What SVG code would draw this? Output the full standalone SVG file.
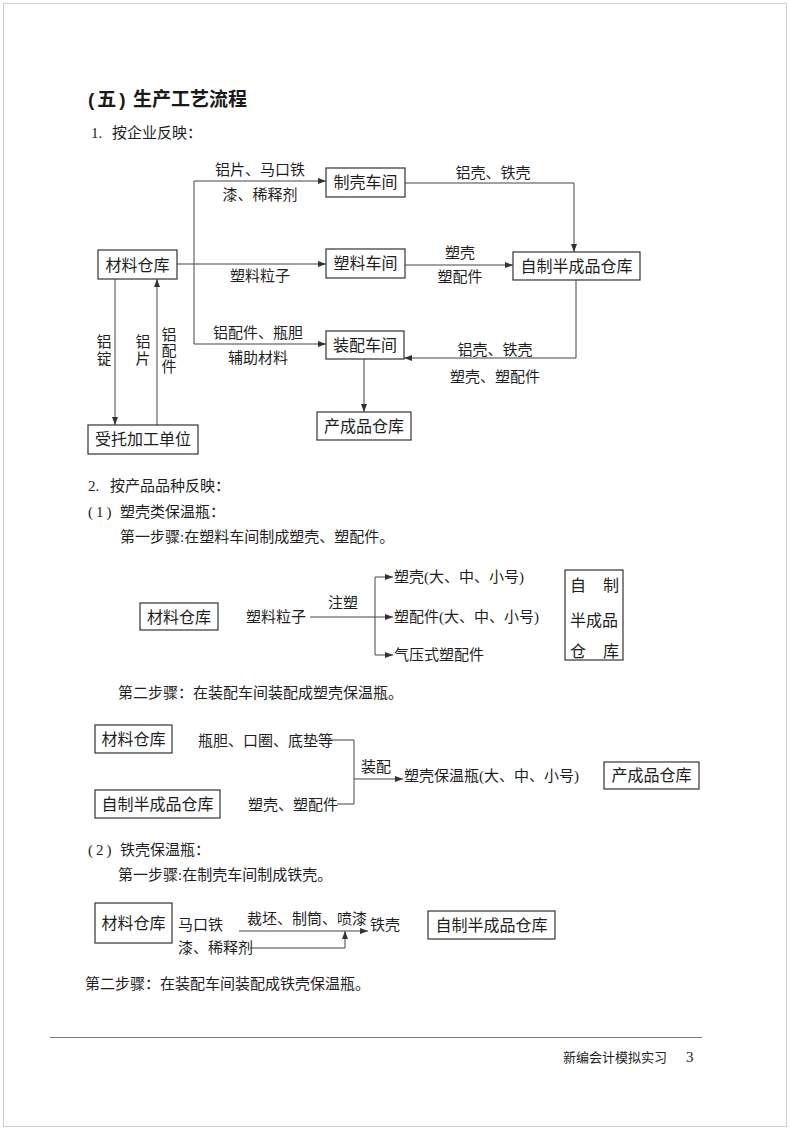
<svg xmlns="http://www.w3.org/2000/svg" width="790" height="1130" viewBox="0 0 790 1130">
<style>
.t{font-family:"Liberation Serif","Noto Sans CJK SC",serif;font-size:15px;fill:#1e1e1e;dominant-baseline:central}
.c{text-anchor:middle}
.bt{font-size:16px}
.h{font-family:"Liberation Sans","Noto Sans CJK SC",sans-serif;font-size:19px;font-weight:bold;fill:#1a1a1a;dominant-baseline:central}
.box{fill:none;stroke:#333;stroke-width:1.2}
.ln{fill:none;stroke:#444;stroke-width:1}
.ar{marker-end:url(#ah)}
</style>
<defs>
<marker id="ah" markerUnits="userSpaceOnUse" markerWidth="8" markerHeight="6" refX="8" refY="3" orient="auto">
<path d="M0,0 L8,3 L0,6 z" fill="#333"/>
</marker>
</defs>
<rect x="0" y="0" width="790" height="1130" fill="#fff"/>
<rect x="3.5" y="3.5" width="783" height="1123" fill="none" stroke="#d0d0d0" stroke-width="1"/>

<!-- headings and body text -->
<g id="texts">
<text class="h" x="88" y="99" letter-spacing="3">(五)<tspan x="133" letter-spacing="0">生产工艺流程</tspan></text>
<text class="t" x="91" y="133">1.<tspan x="112">按企业反映：</tspan></text>
<text class="t" x="88" y="486">2.<tspan x="110">按产品品种反映：</tspan></text>
<text class="t" x="88" y="512" letter-spacing="3">(1)<tspan x="120" letter-spacing="0">塑壳类保温瓶：</tspan></text>
<text class="t" x="120" y="537">第一步骤:在塑料车间制成塑壳、塑配件。</text>
<text class="t" x="118" y="693">第二步骤：在装配车间装配成塑壳保温瓶。</text>
<text class="t" x="88" y="850" letter-spacing="3">(2)<tspan x="120" letter-spacing="0">铁壳保温瓶：</tspan></text>
<text class="t" x="118" y="875">第一步骤:在制壳车间制成铁壳。</text>
<text class="t" x="85" y="984">第二步骤：在装配车间装配成铁壳保温瓶。</text>
</g>

<!-- diagram 1 nodes -->
<g id="n-cailiao1"><rect class="box" x="98" y="250" width="79" height="29"/><text class="t bt c" x="137.5" y="265">材料仓库</text></g>
<g id="n-zhike"><rect class="box" x="326" y="168" width="79" height="29"/><text class="t bt c" x="365.5" y="182.5">制壳车间</text></g>
<g id="n-suliao"><rect class="box" x="326" y="249" width="79" height="29"/><text class="t bt c" x="365.5" y="263.5">塑料车间</text></g>
<g id="n-zhuangpei"><rect class="box" x="326" y="331" width="78" height="28"/><text class="t bt c" x="365" y="345">装配车间</text></g>
<g id="n-chanchengpin1"><rect class="box" x="317" y="412" width="94" height="28"/><text class="t bt c" x="364" y="426">产成品仓库</text></g>
<g id="n-shoutuo"><rect class="box" x="88" y="425" width="110" height="29"/><text class="t bt c" x="143" y="439.5">受托加工单位</text></g>
<g id="n-banchengpin1"><rect class="box" x="513" y="252" width="127" height="28"/><text class="t bt c" x="576.5" y="266">自制半成品仓库</text></g>

<!-- diagram 2.1 nodes -->
<g id="n-cailiao2"><rect class="box" x="140" y="603" width="78" height="27"/><text class="t bt c" x="179" y="617">材料仓库</text></g>
<g id="n-banchengpin2"><rect class="box" x="565" y="570" width="58" height="90"/>
<text class="t bt c" x="578" y="585">自</text><text class="t bt c" x="611" y="585">制</text>
<text class="t bt c" x="594" y="620">半成品</text>
<text class="t bt c" x="578" y="651">仓</text><text class="t bt c" x="611" y="651">库</text></g>

<!-- diagram 2.1 step 2 nodes -->
<g id="n-cailiao3"><rect class="box" x="95" y="725" width="77" height="28"/><text class="t bt c" x="133.5" y="739.5">材料仓库</text></g>
<g id="n-banchengpin3"><rect class="box" x="95" y="790" width="125" height="28"/><text class="t bt c" x="157.5" y="804">自制半成品仓库</text></g>
<g id="n-chanchengpin2"><rect class="box" x="604" y="762" width="95" height="27"/><text class="t bt c" x="651.5" y="775.5">产成品仓库</text></g>

<!-- diagram 2.2 nodes -->
<g id="n-cailiao4"><rect class="box" x="95" y="903" width="77" height="40"/><text class="t bt c" x="133.5" y="923">材料仓库</text></g>
<g id="n-banchengpin4"><rect class="box" x="428" y="911" width="127" height="28"/><text class="t bt c" x="491.5" y="925">自制半成品仓库</text></g>

<!-- connectors -->
<g id="connectors">
<path class="ln" d="M194,181 V344"/>
<path class="ln ar" d="M194,181 H326"/>
<path class="ln ar" d="M177,264 H326"/>
<path class="ln ar" d="M194,344 H326"/>
<path class="ln ar" d="M364,359 V412"/>
<path class="ln ar" d="M405,183 H574 V252"/>
<path class="ln ar" d="M405,265 H513"/>
<path class="ln ar" d="M576,280 V358 H404"/>
<path class="ln ar" d="M115,279 V425"/>
<path class="ln ar" d="M157,425 V279"/>

<path class="ln" d="M375,577 V655"/>
<path class="ln ar" d="M375,577 H393"/>
<path class="ln ar" d="M310,617 H393"/>
<path class="ln ar" d="M375,655 H393"/>

<path class="ln" d="M328,740 H354 V804 H337"/>
<path class="ln ar" d="M354,779 H403"/>

<path class="ln ar" d="M239,931 H368"/>
<path class="ln ar" d="M250,948 H345 V931"/>
</g>

<!-- connector labels -->
<g id="labels">
<text class="t c" x="260" y="170">铝片、马口铁</text>
<text class="t c" x="260" y="195">漆、稀释剂</text>
<text class="t c" x="260" y="276">塑料粒子</text>
<text class="t c" x="258" y="333">铝配件、瓶胆</text>
<text class="t c" x="258" y="358">辅助材料</text>
<text class="t c" x="493" y="173">铝壳、铁壳</text>
<text class="t c" x="460" y="253">塑壳</text>
<text class="t c" x="460" y="277">塑配件</text>
<text class="t c" x="495" y="350">铝壳、铁壳</text>
<text class="t c" x="495" y="377">塑壳、塑配件</text>
<text class="t c" x="104" y="342">铝</text><text class="t c" x="104" y="359">锭</text>
<text class="t c" x="143" y="342">铝</text><text class="t c" x="143" y="359">片</text>
<text class="t c" x="169" y="335">铝</text><text class="t c" x="169" y="351">配</text><text class="t c" x="169" y="367">件</text>

<text class="t" x="246" y="617">塑料粒子</text>
<text class="t c" x="343" y="603">注塑</text>
<text class="t" x="394" y="577">塑壳(大、中、小号)</text>
<text class="t" x="394" y="617">塑配件(大、中、小号)</text>
<text class="t" x="394" y="655">气压式塑配件</text>

<text class="t" x="198" y="741">瓶胆、口圈、底垫等</text>
<text class="t" x="248" y="805">塑壳、塑配件</text>
<text class="t c" x="376" y="767">装配</text>
<text class="t" x="404" y="776">塑壳保温瓶(大、中、小号)</text>

<text class="t" x="178" y="925">马口铁</text>
<text class="t" x="178" y="948">漆、稀释剂</text>
<text class="t" x="247" y="919">裁坯、制筒、喷漆</text>
<text class="t" x="370" y="925">铁壳</text>
</g>

<!-- footer -->
<g id="footer">
<path d="M50,1037.5 H702" stroke="#777" stroke-width="1.2" fill="none"/>
<text class="t" x="563" y="1057" style="font-size:13px">新编会计模拟实习</text>
<text class="t" x="686" y="1057" style="font-size:15px">3</text>
</g>
</svg>
